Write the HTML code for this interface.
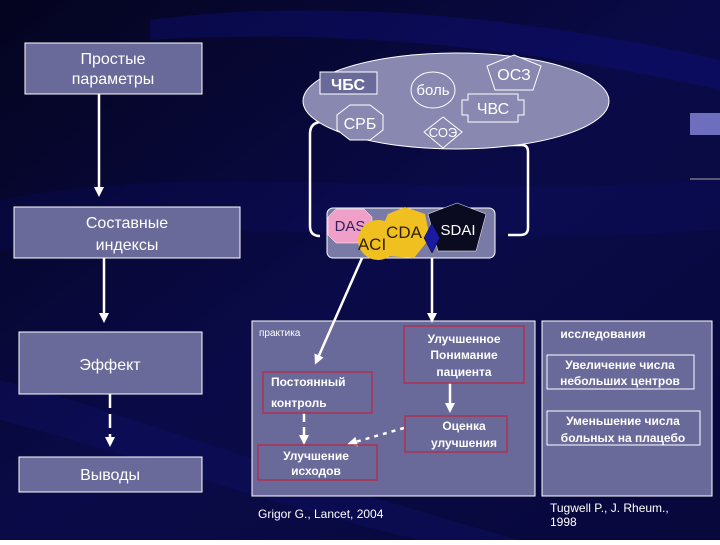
<!DOCTYPE html>
<html><head><meta charset="utf-8"><style>
body{margin:0;width:720px;height:540px;overflow:hidden;font-family:"Liberation Sans",sans-serif;}
</style></head><body>
<svg width="720" height="540" xmlns="http://www.w3.org/2000/svg" font-family="Liberation Sans, sans-serif">
<defs>
<linearGradient id="bg" x1="0" y1="0" x2="1" y2="1">
<stop offset="0" stop-color="#04041f"/><stop offset="0.5" stop-color="#0a0a48"/><stop offset="1" stop-color="#08083c"/>
</linearGradient>
<marker id="ah" markerUnits="userSpaceOnUse" markerWidth="10" markerHeight="10" refX="5" refY="5" orient="auto"><path d="M0,0 L10,5 L0,10 z" fill="#fff"/></marker>
</defs>
<rect width="720" height="540" fill="url(#bg)"/>
<path d="M150,20 C300,0 500,10 720,60 L720,90 C500,40 300,30 150,40 z" fill="#12128a" opacity="0.35"/>
<path d="M0,200 C200,160 400,200 720,180 L720,230 C400,250 200,210 0,250 z" fill="#10107a" opacity="0.2"/>
<path d="M0,380 C150,420 300,480 520,540 L420,540 C250,500 120,450 0,420 z" fill="#12127a" opacity="0.25"/>
<rect x="690" y="113" width="30" height="22" fill="#8888dd" opacity="0.8"/>
<line x1="690" y1="179" x2="720" y2="179" stroke="#aaa" stroke-width="1"/>

<g fill="#6a6a9a" stroke="#fff" stroke-width="1">
<rect x="25" y="43" width="177" height="51"/>
<rect x="14" y="207" width="226" height="51"/>
<rect x="19" y="332" width="183" height="62"/>
<rect x="19" y="457" width="183" height="35"/>
</g>
<g fill="#fff" font-size="16" text-anchor="middle">
<text x="113" y="64">Простые</text><text x="113" y="84">параметры</text>
<text x="127" y="228">Составные</text><text x="127" y="250">индексы</text>
<text x="110" y="370">Эффект</text>
<text x="110" y="480">Выводы</text>
</g>
<g stroke="#fff" stroke-width="2.5" fill="none">
<line x1="99" y1="94" x2="99" y2="192" marker-end="url(#ah)"/>
<line x1="104" y1="258" x2="104" y2="318" marker-end="url(#ah)"/>
<line x1="110" y1="394" x2="110" y2="442" stroke-dasharray="14,6" marker-end="url(#ah)"/>
</g>

<g stroke="#fff" stroke-width="2.5" fill="none">
<path d="M322,122 Q310,122 310,134 L310,226 Q310,236 320,236"/>
<path d="M510,145 L522,145 Q528,145 528,152 L528,228 Q528,235 520,235 L508,235"/>
</g>
<ellipse cx="456" cy="101" rx="153" ry="48" fill="#8888b0" stroke="#fff" stroke-width="1"/>
<rect x="320" y="72" width="57" height="22" fill="#6a6a9a" stroke="#fff"/>
<text x="348" y="90" font-size="16" font-weight="bold" fill="#fff" text-anchor="middle">ЧБС</text>
<ellipse cx="433" cy="90" rx="22" ry="18" fill="#8888b0" stroke="#fff"/>
<text x="433" y="95" font-size="15" fill="#fff" text-anchor="middle">боль</text>
<polygon points="514,55 541,66 533,90 495,90 487,66" fill="#8888b0" stroke="#fff"/>
<text x="514" y="80" font-size="16" fill="#fff" text-anchor="middle">ОСЗ</text>
<polygon points="468,94 518,94 518,100 524,100 524,115 518,115 518,122 468,122 468,115 462,115 462,100 468,100" fill="#8888b0" stroke="#fff"/>
<text x="493" y="114" font-size="16" fill="#fff" text-anchor="middle">ЧВС</text>
<polygon points="350,105 370,105 383,115 383,130 370,140 350,140 337,130 337,115" fill="#8888b0" stroke="#fff"/>
<text x="360" y="129" font-size="16" fill="#fff" text-anchor="middle">СРБ</text>
<polygon points="443,117 462,132 443,148 424,132" fill="#8888b0" stroke="#fff"/>
<text x="443" y="137" font-size="13" fill="#fff" text-anchor="middle">СОЭ</text>

<rect x="327" y="208" width="168" height="50" rx="6" fill="#7a7aa6" stroke="#fff"/>
<polygon points="336,209 364,209 372,217 372,235 364,243 336,243 328,235 328,217" fill="#f0a0c8" stroke="#fff" stroke-width="0.5"/>
<text x="350" y="231" font-size="15" fill="#302060" text-anchor="middle">DAS</text>
<polygon points="405,207 425,214 430,238 414,258 388,256 380,232 388,214" fill="#f0c020"/>
<circle cx="378" cy="240" r="20" fill="#f0c020"/>
<text x="372" y="250" font-size="17" fill="#302000" text-anchor="middle">ACI</text>
<text x="404" y="238" font-size="17" fill="#302000" text-anchor="middle">CDA</text>
<polygon points="457,203 486,214 476,251 438,251 428,214" fill="#0a0a20" stroke="#fff" stroke-width="0.5"/>
<polygon points="432,223 440,238 432,253 424,238" fill="#1a1aa0" stroke="#000" stroke-width="0.5"/>
<text x="458" y="235" font-size="15" fill="#fff" text-anchor="middle">SDAI</text>

<rect x="252" y="321" width="283" height="175" fill="#6a6a9a" stroke="#fff"/>
<rect x="542" y="321" width="170" height="175" fill="#6a6a9a" stroke="#fff"/>
<g stroke="#fff" stroke-width="2.5" fill="none">
<line x1="362" y1="258" x2="317" y2="360" marker-end="url(#ah)"/>
<line x1="432" y1="258" x2="432" y2="318" marker-end="url(#ah)"/>
<line x1="450" y1="383" x2="450" y2="408" marker-end="url(#ah)"/>
<line x1="304" y1="413" x2="304" y2="440" stroke-dasharray="9,5" marker-end="url(#ah)"/>
<line x1="404" y1="428" x2="352" y2="443" stroke-dasharray="4,5" marker-end="url(#ah)"/>
</g>
<g fill="none" stroke="#b03050" stroke-width="1.5">
<rect x="404" y="326" width="120" height="57"/>
<rect x="263" y="372" width="109" height="41"/>
<rect x="258" y="445" width="119" height="35"/>
<rect x="405" y="416" width="102" height="36"/>
</g>
<g fill="none" stroke="#fff" stroke-width="1">
<rect x="547" y="355" width="147" height="34"/>
<rect x="547" y="411" width="153" height="34"/>
</g>
<g fill="#fff" font-size="12" font-weight="bold" text-anchor="middle">
<text x="464" y="343">Улучшенное</text><text x="464" y="359">Понимание</text><text x="464" y="376">пациента</text>
<text x="464" y="430">Оценка</text><text x="464" y="447">улучшения</text>
<text x="316" y="460">Улучшение</text><text x="316" y="475">исходов</text>
<text x="620" y="369">Увеличение числа</text><text x="620" y="385">небольших центров</text>
<text x="623" y="425">Уменьшение числа</text><text x="623" y="442">больных на плацебо</text>
<text x="603" y="338">исследования</text>
</g>
<g fill="#fff" font-size="12" font-weight="bold">
<text x="271" y="386">Постоянный</text>
<text x="271" y="407">контроль</text>
</g>
<text x="259" y="336" fill="#fff" font-size="10">практика</text>
<text x="258" y="518" fill="#fff" font-size="12">Grigor G., Lancet, 2004</text>
<text x="550" y="512" fill="#fff" font-size="12">Tugwell P., J. Rheum.,</text>
<text x="550" y="526" fill="#fff" font-size="12">1998</text>
</svg>
</body></html>
